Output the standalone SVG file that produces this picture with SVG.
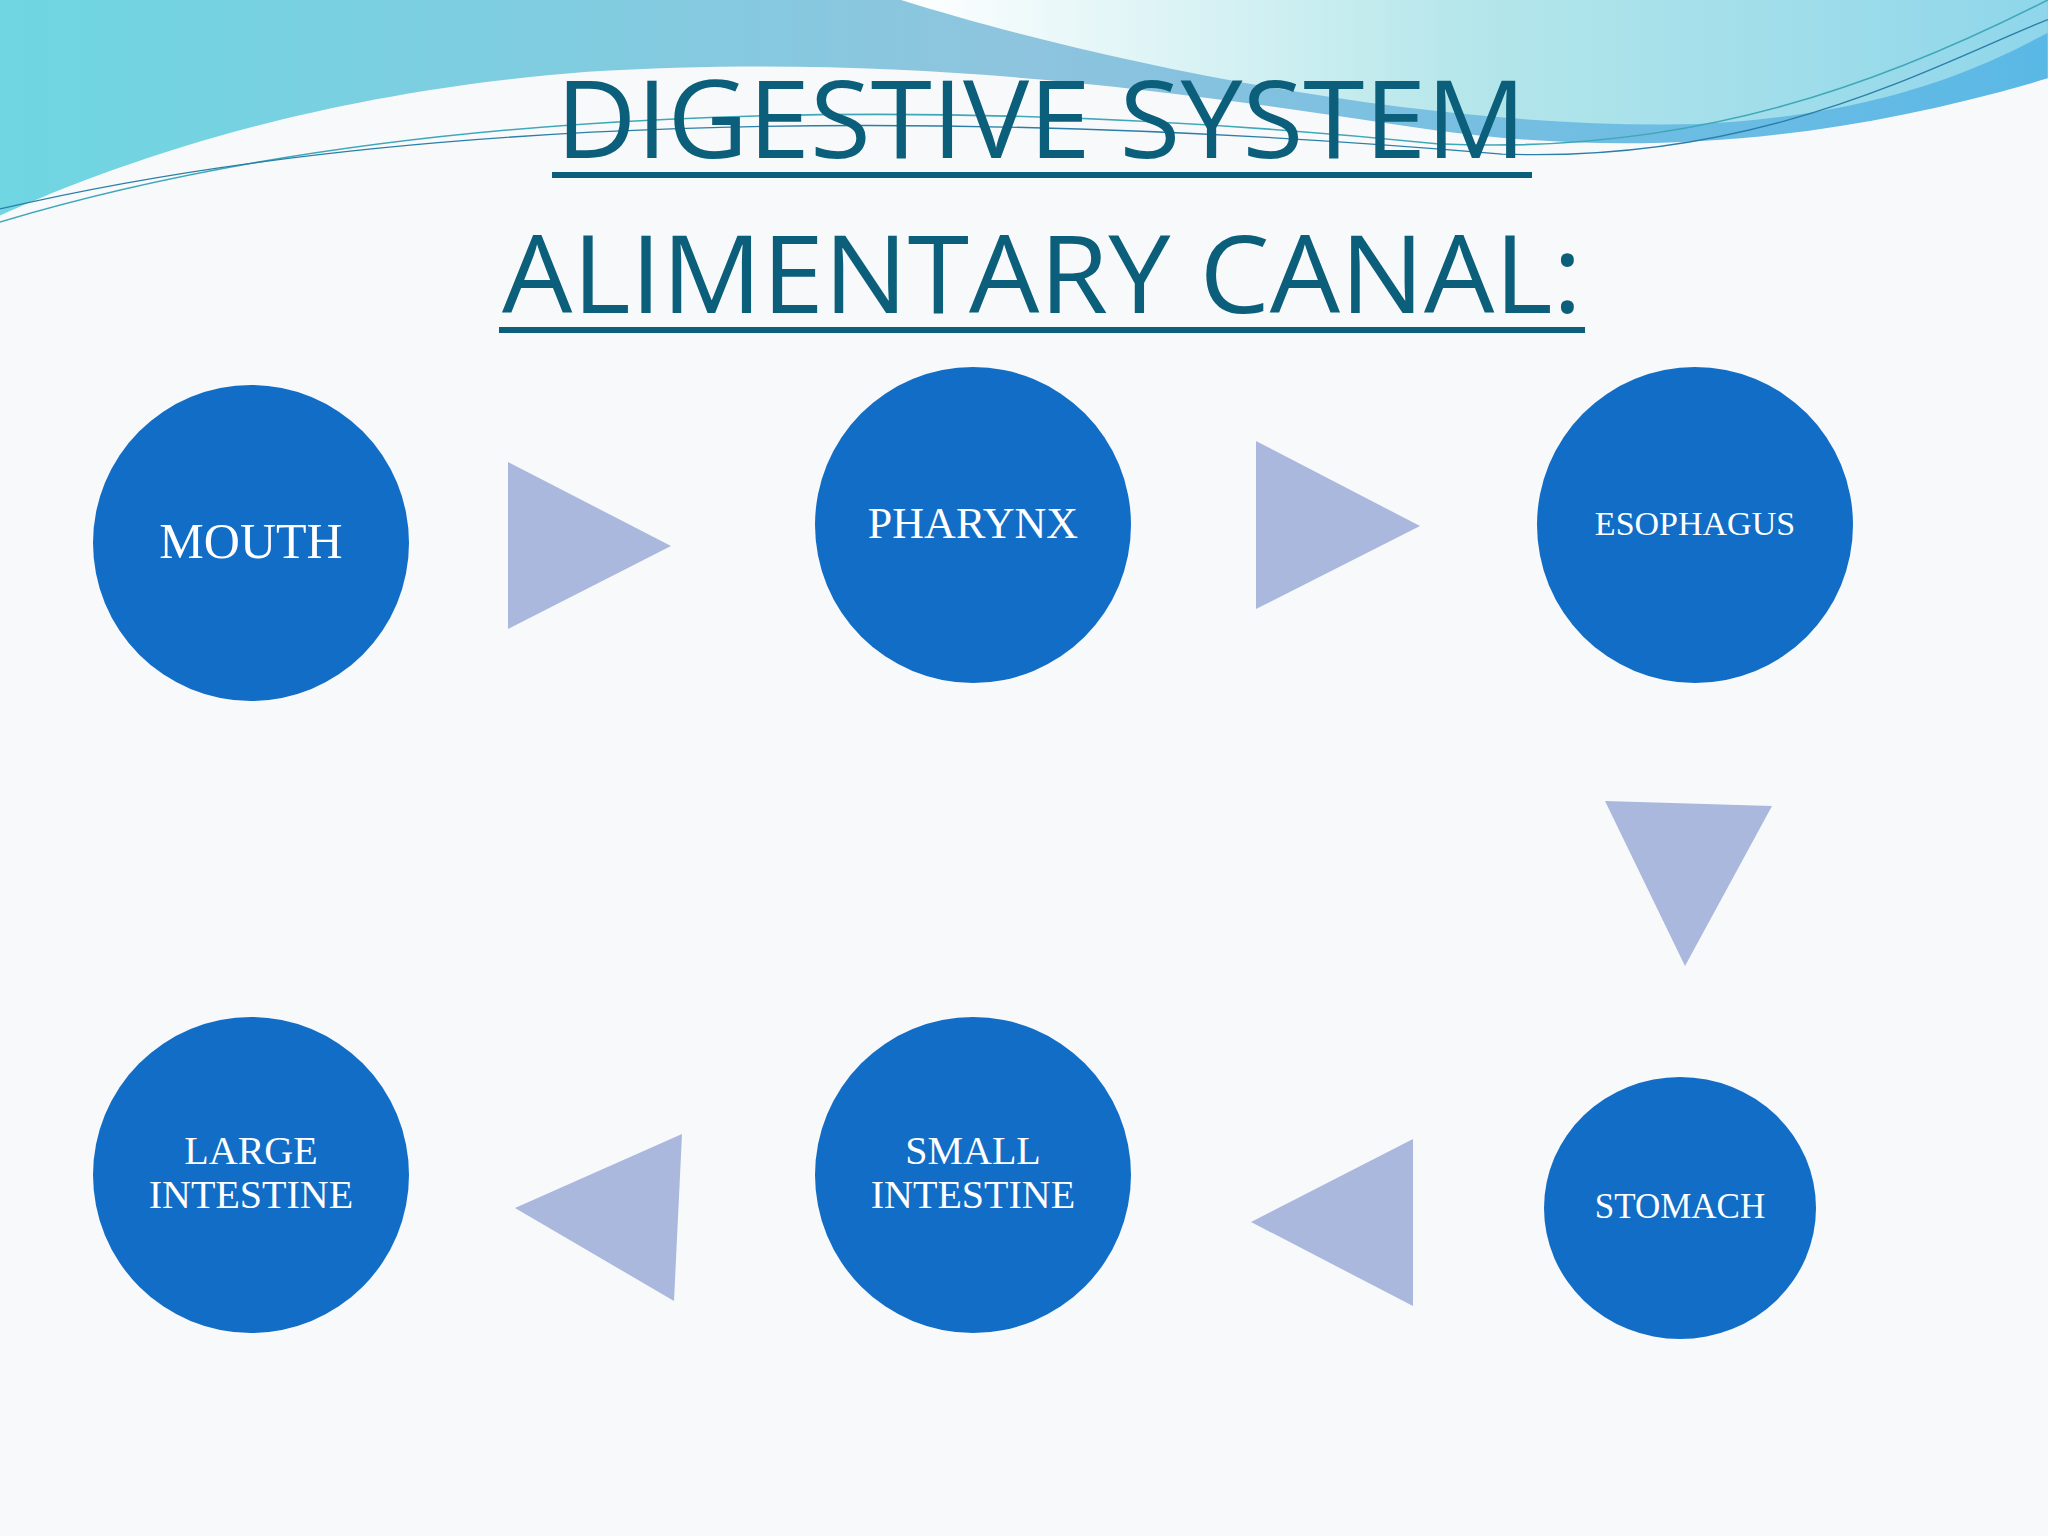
<svg xmlns="http://www.w3.org/2000/svg" width="2048" height="1536" viewBox="0 0 2048 1536">
<defs>
<linearGradient id="g1" x1="0" y1="0" x2="1" y2="0">
<stop offset="0" stop-color="#6fd6e2"/><stop offset="0.5" stop-color="#8ec4de"/><stop offset="1" stop-color="#5ab8e6"/>
</linearGradient>
<linearGradient id="g2" x1="0" y1="0" x2="1" y2="0">
<stop offset="0" stop-color="#ffffff"/><stop offset="0.5" stop-color="#b4e6ea"/><stop offset="1" stop-color="#8fd6ea"/>
</linearGradient>
<style>
.n{fill:#126dc6}
.t{fill:#fff;font-family:"Liberation Serif",serif;text-anchor:middle}
.a{fill:#aab8de}
.h{fill:#0b5f7a;font-family:"Open Sans","Liberation Sans",sans-serif;text-anchor:middle}
</style>
</defs>
<rect width="2048" height="1536" fill="#f8f9fb"/>
<g id="background" transform="scale(1.306)">
<path d="M0,0 H1568 V60 C1400,110 1250,120 1100,100 C900,70 700,40 450,55 C250,70 100,120 0,165 Z" fill="url(#g1)"/>
<path d="M690,0 C850,50 1100,100 1300,95 C1450,88 1530,45 1568,25 V0 Z" fill="url(#g2)"/>
<path d="M0,170 C300,80 700,70 1100,110 C1300,120 1450,60 1568,0" fill="none" stroke="#3fa8b8" stroke-width="1.2"/>
<path d="M0,160 C300,90 700,80 1150,118 C1350,125 1480,50 1568,15" fill="none" stroke="#2a7ea8" stroke-width="1"/>
</g>
<g id="title">
<text class="h" x="1041" y="158" font-size="108" textLength="970" lengthAdjust="spacingAndGlyphs">DIGESTIVE SYSTEM</text>
<rect x="552" y="172" width="980" height="6" fill="#0b5f7a"/>
<text class="h" x="1042" y="313" font-size="108" textLength="1080" lengthAdjust="spacingAndGlyphs">ALIMENTARY CANAL:</text>
<rect x="499" y="327" width="1086" height="6" fill="#0b5f7a"/>
</g>
<g id="connectors">
<polygon class="a" points="508,462 671,546 508,629"/>
<polygon class="a" points="1256,441 1420,526 1256,609"/>
<polygon class="a" points="1605,801 1772,806 1685,966"/>
<polygon class="a" points="1413,1139 1251,1222 1413,1306"/>
<polygon class="a" points="682,1134 515,1208 674,1301"/>
</g>
<g id="mouth"><circle class="n" cx="251" cy="543" r="158"/><text class="t" x="251" y="558" font-size="50">MOUTH</text></g>
<g id="pharynx"><circle class="n" cx="973" cy="525" r="158"/><text class="t" x="973" y="538" font-size="44">PHARYNX</text></g>
<g id="esophagus"><circle class="n" cx="1695" cy="525" r="158"/><text class="t" x="1695" y="535" font-size="34">ESOPHAGUS</text></g>
<g id="stomach"><ellipse class="n" cx="1680" cy="1208" rx="136" ry="131"/><text class="t" x="1680" y="1218" font-size="35">STOMACH</text></g>
<g id="small-intestine"><circle class="n" cx="973" cy="1175" r="158"/><text class="t" x="973" y="1164" font-size="40">SMALL</text><text class="t" x="973" y="1208" font-size="40">INTESTINE</text></g>
<g id="large-intestine"><circle class="n" cx="251" cy="1175" r="158"/><text class="t" x="251" y="1164" font-size="40">LARGE</text><text class="t" x="251" y="1208" font-size="40">INTESTINE</text></g>
</svg>
